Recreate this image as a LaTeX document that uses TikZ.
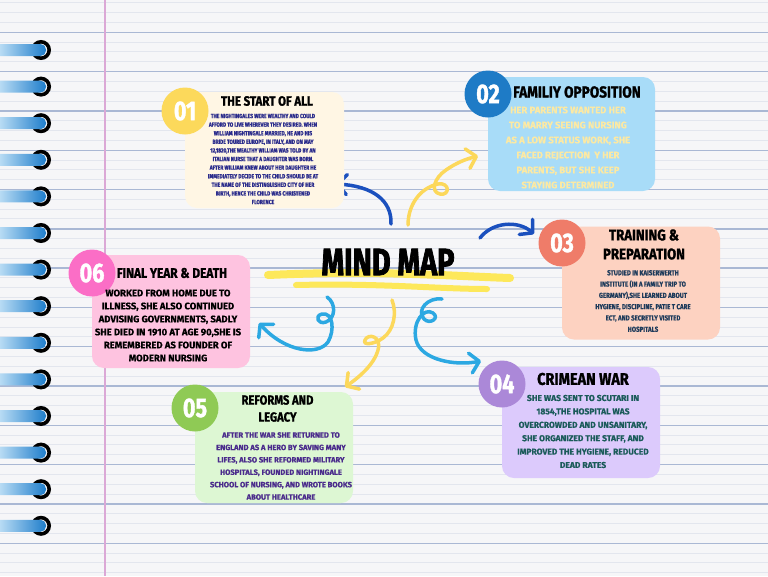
\documentclass[tikz,border=0pt]{standalone}
\usepackage{fontspec}
\setmainfont{Fira Sans}
\newfontfamily\bigf[FakeStretch=0.76, BoldFeatures={FakeBold=2}]{Fira Sans}
\newfontfamily\dispf[FakeStretch=0.85, BoldFeatures={FakeBold=1.2}]{Fira Sans}
\newfontfamily\numf[FakeStretch=0.8, BoldFeatures={FakeBold=1.4}]{Fira Sans}
\newfontfamily\bodyf[FakeStretch=0.85, BoldFeatures={FakeBold=0.5}]{Fira Sans}
\newfontfamily\bodys[FakeStretch=0.82, BoldFeatures={FakeBold=1.6}]{Fira Sans}
\newfontfamily\bodyw[FakeStretch=1.0, BoldFeatures={FakeBold=0.5}]{Fira Sans}
\usetikzlibrary{arrows.meta}
\definecolor{bgcol}{HTML}{F6F6F8}
\definecolor{lightln}{HTML}{E3E6EE}
\definecolor{darkln}{HTML}{AAB8D4}
\definecolor{margin}{HTML}{DBA8D6}
\definecolor{ringL}{HTML}{D2EBFB}
\definecolor{ringR}{HTML}{1F7ECB}
\definecolor{dkb}{HTML}{1B50BE}
\definecolor{cyn}{HTML}{2CA8E2}
\definecolor{ylw}{HTML}{FCD85B}
\definecolor{hlw}{HTML}{FDE85A}
\definecolor{bA}{HTML}{FFF6E4}
\definecolor{cA}{HTML}{FCD95B}
\definecolor{tA}{HTML}{2B2C8C}
\definecolor{bB}{HTML}{A8DCF8}
\definecolor{cB}{HTML}{1E7BC6}
\definecolor{tB}{HTML}{FCE9A3}
\definecolor{bC}{HTML}{FDD2C1}
\definecolor{cC}{HTML}{EF7C69}
\definecolor{tC}{HTML}{1E3B5B}
\definecolor{bF}{HTML}{FEC3E0}
\definecolor{cF}{HTML}{FB6EC6}
\definecolor{bD}{HTML}{DCCAFC}
\definecolor{cD}{HTML}{AB88D8}
\definecolor{tD}{HTML}{1B5B5A}
\definecolor{bE}{HTML}{DDF7D3}
\definecolor{cE}{HTML}{8FCA55}
\definecolor{tE}{HTML}{4A2B8C}
\tikzset{
  boxst/.style={rectangle, rounded corners=12pt, inner sep=0pt, draw=none},
  numc/.style={circle, minimum size=47pt, inner sep=0pt, text=white,
    font=\numf\bfseries\fontsize{27}{27}\selectfont},
  ttl/.style={inner sep=0pt, align=center, text=black},
  txt/.style={inner sep=0pt, align=center},
  arr/.style={line width=3.5pt, line cap=round, line join=round,
    -{Straight Barb[length=9pt,width=20pt,round]}},
}
\begin{document}
\begin{tikzpicture}[x=1pt,y=-1pt]
\fill[bgcol] (0,0) rectangle (768,576);
\path[use as bounding box] (0,0) rectangle (768,576);
% ruled lines
\foreach \j in {-3,...,55} {
  \draw[lightln, line width=1pt] (0,32.3+9.825*\j) -- (768,32.3+9.825*\j);
}
\foreach \k in {0,...,13} {
  \draw[darkln, line width=1.4pt] (0,32.3+39.3*\k) -- (768,32.3+39.3*\k);
}
% margin line
\draw[margin, line width=2pt] (105,0) -- (105,576);
% spiral rings
\foreach \i in {0,...,13} {
  \pgfmathsetmacro\yy{50+36.6*\i}
  \draw[black, line width=3.6pt] (41,\yy) circle (8.2);
  \shade[left color=ringL, right color=ringR, rounded corners=5.5pt]
    (-8,\yy-6) rectangle (46,\yy+6);
}
% connectors
\coordinate (s1) at (391,224); \coordinate (e1) at (336,184);
\coordinate (s2) at (408,225); \coordinate (e2) at (478,156);
\coordinate (s3) at (480,238); \coordinate (e3) at (534,234);
\coordinate (s4) at (442,299); \coordinate (e4) at (481,361);
\coordinate (s5) at (392,300); \coordinate (e5) at (345,387);
\coordinate (s6) at (327,297); \coordinate (e6) at (259,323);
\draw[arr, dkb] (s1) .. controls (392,200) and (372,186) .. (e1);
\draw[arr, ylw] (s2) .. controls (408,205) and (420,188) .. (438,184)
  .. controls (450,182) and (450,196) .. (440,194)
  .. controls (430,192) and (434,178) .. (446,170)
  .. controls (456,163) and (466,159) .. (e2);
\draw[arr, dkb] (s3) .. controls (492,222) and (518,220) .. (e3);
\draw[arr, cyn] (s4) .. controls (428,297) and (416,310) .. (424,319)
  .. controls (430,325) and (440,318) .. (433,313)
  .. controls (424,307) and (412,322) .. (416,340)
  .. controls (421,360) and (455,366) .. (e4);
\draw[arr, ylw] (s5) .. controls (397,313) and (394,330) .. (383,338)
  .. controls (375,344) and (362,346) .. (365,340)
  .. controls (368,333) and (382,336) .. (378,350)
  .. controls (374,365) and (358,378) .. (e5);
\draw[arr, cyn] (s6) .. controls (336,303) and (336,318) .. (326,322)
  .. controls (318,325) and (314,316) .. (322,314)
  .. controls (333,312) and (335,330) .. (328,342)
  .. controls (318,356) and (285,352) .. (e6);
% central title
\coordinate (h1a) at (268,275); \coordinate (h1b) at (510,278);
\coordinate (h2a) at (296,285); \coordinate (h2b) at (487,289);
\draw[hlw, line width=8pt, line cap=round] (h1a) .. controls (380,270) and (450,276) .. (h1b);
\draw[hlw, line width=6pt, line cap=round] (h2a) .. controls (380,283) and (440,289) .. (h2b);
\node[ttl, font=\bigf\bfseries\fontsize{38}{40}\selectfont] (mm) at (388,262) {MIND MAP};
% boxes
\node[boxst, fill=bA, minimum width=159pt, minimum height=116pt] (boxA) at (264.5,150) {};
\node[boxst, fill=bB, minimum width=167pt, minimum height=114pt] (boxB) at (571.5,134) {};
\node[boxst, fill=bC, minimum width=158pt, minimum height=113pt] (boxC) at (641,283) {};
\node[boxst, fill=bF, minimum width=158pt, minimum height=113pt] (boxF) at (171,311.5) {};
\node[boxst, fill=bD, minimum width=158pt, minimum height=111pt] (boxD) at (581,422.5) {};
\node[boxst, fill=bE, minimum width=158pt, minimum height=111pt] (boxE) at (274,447.5) {};
% number circles
\node[numc, fill=cA] (nA) at (185,111) {01};
\node[numc, fill=cB] (nB) at (488,94) {02};
\node[numc, fill=cC] (nC) at (562,243) {03};
\node[numc, fill=cF] (nF) at (92,273) {06};
\node[numc, fill=cD] (nD) at (502,384) {04};
\node[numc, fill=cE] (nE) at (195,408) {05};
% titles
\node[ttl, font=\dispf\bfseries\fontsize{13.5}{14}\selectfont] (tA) at (267,101) {THE START OF ALL};
\node[ttl, font=\dispf\bfseries\fontsize{16}{16}\selectfont] (tB) at (577,92) {FAMILIY OPPOSITION};
\node[ttl, font=\dispf\bfseries\fontsize{15.5}{19}\selectfont] (tC) at (644,244.5) {TRAINING \&\\PREPARATION};
\node[ttl, font=\dispf\bfseries\fontsize{14}{15}\selectfont] (tF) at (172,273) {FINAL YEAR \& DEATH};
\node[ttl, font=\dispf\bfseries\fontsize{17}{18}\selectfont] (tD) at (583,379) {CRIMEAN WAR};
\node[ttl, font=\dispf\bfseries\fontsize{13.2}{17}\selectfont] (tE) at (277.5,408.5) {REFORMS AND\\LEGACY};
% body texts
\node[txt, text=tA, font=\bodys\bfseries\fontsize{6}{8.6}\selectfont] (xA) at (263,159) {THE NIGHTINGALES WERE WEALTHY AND COULD\\AFFORD TO LIVE WHEREVER THEY DESIRED. WHEN\\WILLIAM NIGHTINGALE MARRIED, HE AND HIS\\BRIDE TOURED EUROPE, IN ITALY, AND ON MAY\\12,1820,THE WEALTHY WILLIAM WAS TOLD BY AN\\ITALIAN NURSE THAT A DAUGHTER WAS BORN.\\AFTER WILLIAM KNEW ABOUT HER DAUGHTER HE\\IMMEDIATELY DECIDE TO THE CHILD SHOULD BE AT\\THE NAME OF THE DISTINGUISHED CITY OF HER\\BIRTH, HENCE THE CHILD WAS CHRISTENED\\FLORENCE};
\node[txt, text=tB, font=\bodyw\bfseries\fontsize{9.5}{15}\selectfont] (xB) at (568,147.5) {HER PARENTS WANTED HER\\TO MARRY SEEING NURSING\\AS A LOW STATUS WORK, SHE\\FACED REJECTION\ \ Y HER\\PARENTS, BUT SHE KEEP\\STAYING DETERMINED};
\node[txt, text=tC, font=\bodyf\bfseries\fontsize{7.2}{11.3}\selectfont] (xC) at (643,301) {STUDIED IN KAISERWERTH\\INSTITUTE (IN A FAMILY TRIP TO\\GERMANY),SHE LEARNED ABOUT\\HYGIENE, DISCIPLINE, PATIE T CARE\\ECT, AND SECRETLY VISITED\\HOSPITALS};
\node[txt, text=black, font=\bodyw\bfseries\fontsize{9.5}{13}\selectfont] (xF) at (168,325.5) {WORKED FROM HOME DUE TO\\ILLNESS, SHE ALSO CONTINUED\\ADVISING GOVERNMENTS, SADLY\\SHE DIED IN 1910 AT AGE 90,SHE IS\\REMEMBERED AS FOUNDER OF\\MODERN NURSING};
\node[txt, text=tD, font=\bodyw\bfseries\fontsize{8.5}{13.4}\selectfont] (xD) at (583,431.5) {SHE WAS SENT TO SCUTARI IN\\1854,THE HOSPITAL WAS\\OVERCROWDED AND UNSANITARY,\\SHE ORGANIZED THE STAFF, AND\\IMPROVED THE HYGIENE, REDUCED\\DEAD RATES};
\node[txt, text=tE, font=\bodyw\bfseries\fontsize{7.6}{12.4}\selectfont] (xE) at (281,466) {AFTER THE WAR SHE RETURNED TO\\ENGLAND AS A HERO BY SAVING MANY\\LIFES, ALSO SHE REFORMED MILITARY\\HOSPITALS, FOUNDED NIGHTINGALE\\SCHOOL OF NURSING, AND WROTE BOOKS\\ABOUT HEALTHCARE};
\end{tikzpicture}
\end{document}
